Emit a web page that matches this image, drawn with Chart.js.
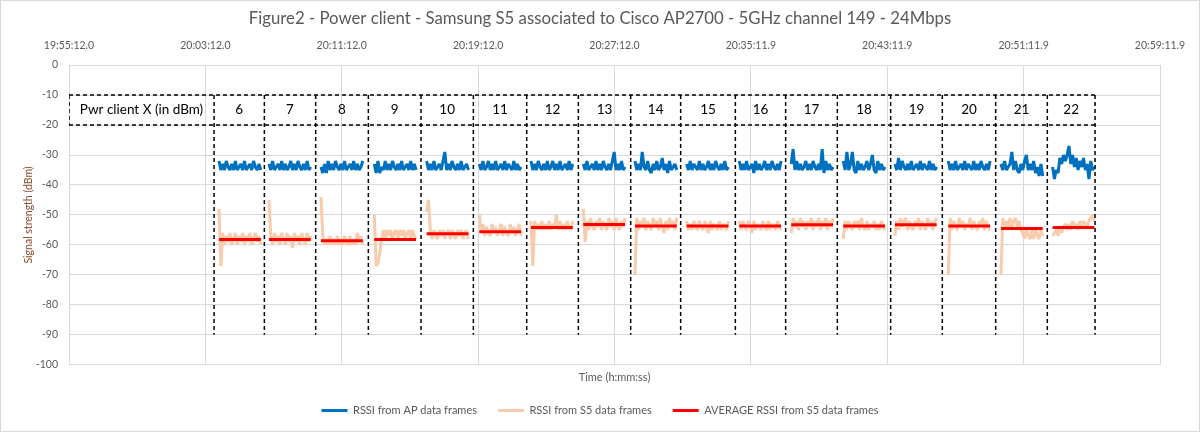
<!DOCTYPE html>
<html lang="en">
  <head>
    <meta charset="UTF-8" />
    <script src="https://cdn.jsdelivr.net/npm/chart.js"></script>
    <title>Figure2 - Power client</title>
    <style>
      html, body { margin: 0; padding: 0; background: #fff; }
      #wrap { width: 1200px; height: 432px; }
    </style>
  </head>
  <body>
    <div id="wrap"><canvas id="chart" width="1200" height="432"></canvas></div>
    <script>
      // x values are minutes after 19:55:12.0
      const timeLabels = ['19:55:12.0', '20:03:12.0', '20:11:12.0', '20:19:12.0', '20:27:12.0',
        '20:35:11.9', '20:43:11.9', '20:51:11.9', '20:59:11.9'];
      const pwrLevels = [6, 7, 8, 9, 10, 11, 12, 13, 14, 15, 16, 17, 18, 19, 20, 21, 22];
      // dashed boundaries between power steps
      const cellEdges = [8.51, 11.46, 14.47, 17.56, 20.65, 23.72, 26.85, 29.88, 32.95,
        35.88, 39.09, 42.04, 45.07, 48.20, 51.23, 54.36, 57.39, 60.19];
      const segStart = [8.80, 11.73, 14.78, 17.91, 20.98, 24.07, 27.10, 30.17, 33.20,
        36.23, 39.32, 42.37, 45.42, 48.45, 51.58, 54.67, 57.70];
      const sampleStep = 0.1066; // minutes between samples

      const apRssi = [
        [-32,-35,-33,-35,-32,-34,-35,-33,-35,-32,-35,-34,-33,-35,-32,-35,-34,-33,-35,-32,-34,-35,-33,-35],
        [-33,-35,-32,-35,-34,-33,-35,-32,-35,-33,-35,-34,-32,-35,-33,-35,-32,-34,-35,-33,-35,-32,-35,-34],
        [-34,-36,-33,-36,-32,-35,-33,-35,-32,-34,-35,-33,-35,-32,-35,-34,-33,-35,-32,-35,-33,-35,-34,-32],
        [-33,-36,-32,-36,-34,-35,-32,-35,-33,-35,-32,-34,-35,-33,-35,-32,-35,-34,-33,-35,-32,-35,-33,-35],
        [-32,-35,-33,-35,-32,-35,-34,-33,-35,-32,-29,-35,-33,-35,-32,-34,-35,-33,-35,-32,-35,-34,-33,-35],
        [-33,-35,-32,-35,-34,-32,-35,-33,-35,-32,-35,-34,-33,-35,-32,-35,-33,-34,-35,-32,-35,-33,-35,-34],
        [-32,-35,-33,-35,-32,-34,-35,-33,-35,-32,-35,-34,-32,-35,-33,-35,-32,-35,-34,-33,-35,-32,-35,-33],
        [-33,-35,-32,-35,-34,-33,-35,-32,-35,-33,-35,-32,-34,-35,-33,-35,-32,-29,-35,-33,-35,-32,-35,-34],
        [-32,-35,-33,-35,-29,-34,-35,-32,-35,-36,-33,-35,-32,-35,-34,-31,-35,-33,-36,-32,-35,-34,-33,-35],
        [-33,-35,-32,-35,-33,-34,-35,-32,-35,-33,-35,-34,-32,-35,-33,-35,-32,-34,-35,-33,-35,-32,-35,-34],
        [-32,-35,-33,-35,-32,-35,-34,-33,-36,-32,-35,-33,-35,-34,-32,-35,-33,-35,-32,-34,-35,-33,-35,-32],
        [-33,-28,-35,-32,-35,-33,-35,-34,-32,-35,-33,-35,-32,-34,-35,-33,-35,-28,-36,-32,-35,-33,-35,-34],
        [-32,-35,-29,-35,-33,-29,-35,-36,-32,-35,-33,-35,-34,-32,-35,-33,-30,-35,-36,-32,-35,-33,-35,-34],
        [-33,-35,-31,-35,-32,-34,-35,-33,-35,-32,-35,-34,-33,-35,-32,-35,-33,-34,-35,-32,-35,-33,-35,-34],
        [-32,-35,-33,-35,-32,-35,-34,-33,-35,-32,-35,-33,-34,-35,-32,-35,-33,-35,-32,-34,-35,-33,-35,-32],
        [-33,-35,-32,-35,-34,-33,-29,-35,-32,-35,-36,-33,-35,-32,-30,-35,-33,-35,-32,-36,-34,-37,-33,-37],
        [-34,-38,-35,-36,-31,-33,-30,-32,-30,-27,-33,-30,-34,-31,-35,-32,-34,-31,-35,-33,-38,-32,-35,-34]
      ];
      const s5Rssi = [
        [-48,-67,-56,-60,-57,-59,-56,-60,-58,-56,-60,-57,-59,-56,-60,-57,-59,-56,-60,-58,-56,-59,-57,-60],
        [-45,-57,-60,-56,-59,-57,-60,-56,-58,-60,-56,-59,-57,-61,-56,-59,-57,-60,-56,-58,-60,-56,-59,-57],
        [-44,-57,-60,-58,-60,-57,-60,-58,-60,-57,-60,-58,-60,-57,-59,-60,-57,-60,-58,-60,-56,-59,-57,-60],
        [-50,-67,-66,-63,-58,-55,-58,-55,-57,-55,-58,-56,-55,-58,-55,-57,-55,-58,-56,-55,-58,-55,-57,-58],
        [-49,-45,-55,-58,-55,-57,-58,-55,-57,-55,-58,-56,-55,-58,-55,-57,-58,-55,-57,-55,-58,-56,-55,-58],
        [-50,-56,-53,-57,-54,-56,-57,-53,-56,-54,-57,-55,-53,-57,-54,-56,-57,-53,-56,-54,-57,-55,-53,-57],
        [-52,-67,-52,-55,-53,-55,-52,-55,-53,-55,-52,-55,-53,-54,-50,-55,-52,-55,-53,-55,-52,-54,-55,-52],
        [-48,-59,-52,-55,-51,-54,-55,-52,-54,-51,-55,-52,-54,-55,-51,-54,-52,-55,-51,-54,-55,-52,-54,-51],
        [-70,-51,-55,-52,-54,-51,-55,-52,-54,-55,-51,-54,-52,-55,-51,-54,-56,-52,-55,-51,-54,-52,-55,-51],
        [-52,-55,-53,-55,-52,-54,-55,-52,-54,-55,-52,-54,-56,-52,-55,-53,-54,-55,-52,-55,-53,-54,-55,-52],
        [-52,-55,-52,-54,-55,-52,-54,-56,-52,-55,-53,-54,-55,-52,-54,-55,-52,-55,-53,-54,-55,-52,-54,-55],
        [-56,-51,-54,-52,-55,-51,-54,-52,-55,-52,-54,-51,-55,-52,-54,-51,-55,-52,-54,-51,-55,-52,-54,-51],
        [-58,-52,-55,-52,-54,-55,-52,-54,-52,-55,-51,-54,-55,-52,-55,-53,-54,-52,-55,-53,-55,-52,-54,-55],
        [-57,-52,-55,-51,-54,-52,-51,-55,-52,-54,-55,-52,-54,-51,-55,-52,-54,-55,-51,-54,-52,-55,-52,-51],
        [-70,-51,-55,-52,-54,-55,-51,-54,-52,-55,-53,-54,-51,-55,-52,-54,-55,-52,-54,-51,-55,-52,-54,-55],
        [-70,-51,-54,-52,-55,-51,-54,-52,-51,-54,-52,-55,-56,-58,-54,-57,-58,-55,-58,-54,-57,-58,-55,-57],
        [-57,-56,-55,-57,-54,-56,-54,-53,-55,-53,-55,-52,-54,-53,-55,-52,-54,-52,-53,-54,-52,-51,-50,-52]
      ];
      const s5Avg = [-58.2, -58.2, -58.6, -58.2, -56.3, -55.6, -54.2, -53.2, -53.7,
        -53.7, -53.7, -53.3, -53.7, -53.3, -53.7, -54.5, -54.2];

      const TEXT = '#595959';
      const GRID = '#d9d9d9';
      Chart.defaults.font.family = 'Lato, "Open Sans", sans-serif';

      // one point per sample, with a gap between power steps
      function toPoints(rows) {
        const pts = [];
        rows.forEach((row, s) => {
          row.forEach((v, i) => pts.push({ x: segStart[s] + i * sampleStep, y: v }));
          pts.push({ x: cellEdges[s + 1], y: null });
        });
        return pts;
      }

      const avgPoints = [];
      s5Avg.forEach((v, s) => {
        avgPoints.push({ x: segStart[s], y: v });
        avgPoints.push({ x: segStart[s] + (s5Rssi[s].length - 1) * sampleStep, y: v });
        avgPoints.push({ x: cellEdges[s + 1], y: null });
      });

      // dashed table (row at -10..-20) and step separators down to -90
      const last = cellEdges[cellEdges.length - 1];
      const tablePoints = [
        { x: 0, y: -10 }, { x: last, y: -10 }, { x: last, y: null },
        { x: 0, y: -20 }, { x: last, y: -20 }, { x: last, y: null },
        { x: 0, y: -10 }, { x: 0, y: -20 }, { x: 0, y: null }
      ];
      cellEdges.forEach(e => {
        tablePoints.push({ x: e, y: -10 }, { x: e, y: -90 }, { x: e, y: null });
      });

      const tableText = {
        id: 'tableText',
        afterDatasetsDraw(chart) {
          const { ctx, scales: { x, y } } = chart;
          const yc = y.getPixelForValue(-15);
          ctx.save();
          ctx.fillStyle = '#000';
          ctx.font = '13.5px Lato, sans-serif';
          ctx.textAlign = 'center';
          ctx.textBaseline = 'middle';
          ctx.fillText('Pwr client X (in dBm)', (x.getPixelForValue(0) + x.getPixelForValue(cellEdges[0])) / 2, yc);
          pwrLevels.forEach((p, i) => {
            const xc = (x.getPixelForValue(cellEdges[i]) + x.getPixelForValue(cellEdges[i + 1])) / 2;
            ctx.fillText(String(p), xc, yc);
          });
          ctx.restore();
        }
      };

      const frame = {
        id: 'frame',
        beforeDraw(chart) {
          const { ctx, width, height } = chart;
          ctx.save();
          ctx.fillStyle = '#fff';
          ctx.fillRect(0, 0, width, height);
          ctx.restore();
        },
        afterDraw(chart) {
          const { ctx, width, height } = chart;
          ctx.save();
          ctx.strokeStyle = GRID;
          ctx.lineWidth = 1;
          ctx.strokeRect(0.5, 0.5, width - 1, height - 1);
          ctx.restore();
        }
      };

      new Chart(document.getElementById('chart'), {
        type: 'line',
        data: {
          datasets: [
            { label: 'RSSI from AP data frames', data: toPoints(apRssi), borderColor: '#0070c0',
              backgroundColor: '#0070c0', borderWidth: 3, borderJoinStyle: 'bevel', pointRadius: 0, order: 1 },
            { label: 'RSSI from S5 data frames', data: toPoints(s5Rssi), borderColor: '#f8cbad',
              backgroundColor: '#f8cbad', borderWidth: 3, borderJoinStyle: 'bevel', pointRadius: 0, order: 2 },
            { label: 'AVERAGE RSSI from S5 data frames', data: avgPoints, borderColor: '#ff0000',
              backgroundColor: '#ff0000', borderWidth: 3, pointRadius: 0, order: 0 },
            { label: 'table', data: tablePoints, borderColor: '#000', borderWidth: 1.5,
              borderDash: [4, 3], pointRadius: 0, order: 0 }
          ]
        },
        options: {
          responsive: false,
          animation: false,
          events: [],
          layout: { padding: { left: 0, right: 0, top: 0, bottom: 6 } },
          scales: {
            x: {
              type: 'linear', position: 'top', min: 0, max: 64,
              afterFit: s => { s.height = 26; },
              ticks: { stepSize: 8, autoSkip: false, maxRotation: 0, color: TEXT, font: { size: 10.5 }, padding: 13,
                callback: (v, i) => timeLabels[i] },
              grid: { color: GRID, drawTicks: false },
              border: { display: false }
            },
            x2: {
              type: 'linear', position: 'bottom', min: 0, max: 64,
              ticks: { display: false },
              grid: { display: false, drawTicks: false },
              border: { display: false },
              title: { display: true, text: 'Time (h:mm:ss)', color: TEXT, font: { size: 11 }, padding: { top: 6, bottom: 0 } }
            },
            y: {
              min: -100, max: 0,
              afterFit: s => { s.width = 69; },
              ticks: { stepSize: 10, color: TEXT, font: { size: 10.5 }, padding: 11 },
              grid: { color: GRID, drawTicks: false },
              border: { display: false },
              title: { display: true, text: 'Signal strength (dBm)', color: '#8c4a2a', font: { size: 10.5 },
                padding: { top: 22, bottom: 0 } }
            },
            yr: {
              position: 'right', min: -100, max: 0,
              afterFit: s => { s.width = 40; },
              ticks: { display: false },
              grid: { display: false, drawTicks: false },
              border: { display: false }
            }
          },
          plugins: {
            title: { display: true, text: 'Figure2 - Power client - Samsung S5 associated to Cisco AP2700 - 5GHz channel 149 - 24Mbps',
              color: TEXT, font: { size: 16.75, weight: 'normal' }, padding: { top: 9, bottom: 10 } },
            legend: {
              position: 'bottom',
              labels: {
                color: TEXT, font: { size: 11 }, boxWidth: 26, boxHeight: 3, padding: 21,
                filter: item => item.datasetIndex < 3,
                sort: (a, b) => a.datasetIndex - b.datasetIndex,
                generateLabels: chart => Chart.defaults.plugins.legend.labels.generateLabels(chart)
                  .map(l => Object.assign(l, { lineWidth: 0, fillStyle: l.strokeStyle }))
              }
            },
            tooltip: { enabled: false }
          }
        },
        plugins: [tableText, frame]
      });
    </script>
  </body>
</html>
